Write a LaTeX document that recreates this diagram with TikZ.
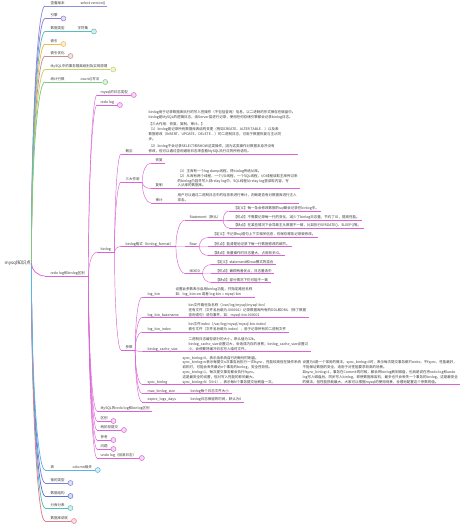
\documentclass[tikz,border=0pt]{standalone}
\usepackage{fontspec}
\setmainfont{Noto Sans CJK SC}
\usetikzlibrary{positioning, calc}

\definecolor{txt}{HTML}{3A3A3A}
\definecolor{cA}{HTML}{8C90DC}
\definecolor{cB}{HTML}{8F80D4}
\definecolor{cC}{HTML}{5CBCBC}
\definecolor{cD}{HTML}{EDBC4C}
\definecolor{cE}{HTML}{C88F8F}
\definecolor{cF}{HTML}{C8D165}
\definecolor{cG}{HTML}{7FCA7F}
\definecolor{cM}{HTML}{DD62D6}
\definecolor{cH}{HTML}{5AB4E4}
\definecolor{cI}{HTML}{7D7FD9}
\definecolor{cJ}{HTML}{5873DA}
\definecolor{cK}{HTML}{4EC1B6}
\definecolor{cL}{HTML}{E67B8E}

\begin{document}
\begin{tikzpicture}[x=1pt, y=-1pt,
  every node/.style={font=\fontsize{3.5}{4.9}\selectfont, text=txt, inner sep=0.4pt},
  lb/.style={anchor=south west, text depth=0.9pt},
  bk/.style={anchor=south west, align=left, execute at end node={\rule[-0.9pt]{0pt}{0.9pt}}},
  ln/.style={draw=#1, line width=0.45pt},
  tr/.style={draw=#1, line width=0.75pt},
  knob/.style={circle, draw=#1, fill=#1!25, line width=0.5pt, minimum size=5pt, inner sep=0pt},
  br/.style={to path={let \p1=(\tikztostart), \p2=(\tikztotarget) in
    .. controls (\x1,{0.45*(\y1)+0.55*(\y2)}) and ({0.55*(\x1)+0.45*(\x2)},\y2) .. (\tikztotarget)}}]
  \fill[white] (0,0) rectangle (474,526);
  \useasboundingbox (0,0) rectangle (474,526);

  % root
  \node[anchor=west, font=\fontsize{4.5}{5}\selectfont] (rt) at (4,263) {mysql知识点};

  % simple branches of the root
  \coordinate (ver) at (45,6);
  \node[lb] (ver-l) at (50,6) {查看版本};
  \node[lb] (ver-n) at (80,6) {select version()};
  \draw[ln=cA] (ver) -- ([xshift=1pt]ver-n.south east);
  \draw[tr=cA] (rt.east) to[br] (ver);
  \foreach \nm/\py/\t/\c in {eng/18.5/引擎/cB, idx/44/索引/cD, idxo/56/索引优化/cE,
      trx/69.5/MySQL中的事务隔离级别及实现原理/cF, lock/483/锁的类型/cI,
      dstr/496/数据结构/cJ, fk/508/分库分表/cK, tune/521/数据库调优/cL}{
    \coordinate (\nm) at (45,\py);
    \node[lb] (\nm-l) at (50,\py) {\t};
    \node[knob=\c, right=2.5pt of \nm-l.south east] (\nm-k) {};
    \draw[ln=\c] (\nm) -- (\nm-k);
    \draw[tr=\c] (rt.east) to[br] (\nm);
  }
  \foreach \nm/\py/\t/\nx/\s/\c in {dty/31.5/数据类型/77/字符集/cC,
      cnt/82/统计行数/80/count()写法/cG, tab/470/表/72/column相关/cH}{
    \coordinate (\nm) at (45,\py);
    \node[lb] (\nm-l) at (50,\py) {\t};
    \node[lb] (\nm-n) at (\nx,\py) {\s};
    \node[knob=\c, right=2.5pt of \nm-n.south east] (\nm-k) {};
    \draw[ln=\c] (\nm) -- (\nm-k);
    \draw[tr=\c] (rt.east) to[br] (\nm);
  }

  % redo log / binlog branch
  \coordinate (rb) at (45,276);
  \node[lb] (rb-l) at (50,276) {redo log和binlog区别};
  \coordinate[right=3pt of rb-l.south east] (rb-e);
  \draw[ln=cM] (rb) -- (rb-e);
  \draw[tr=cM] (rt.east) to[br] (rb);
  \foreach \nm/\py/\t in {logt/95/mysql的日志类型, redo/105/redo log, diff/421/区别,
      tpc/430/两阶段提交, refr/440/参考, ques/449/问题, undo/458/undo log（回滚日志）}{
    \coordinate (\nm) at (97,\py);
    \node[lb] (\nm-l) at (100,\py) {\t};
    \node[knob=cM, right=2.5pt of \nm-l.south east] (\nm-k) {};
    \draw[ln=cM] (\nm) -- (\nm-k);
    \draw[ln=cM] (rb-e) to[br] (\nm);
  }
  \coordinate (rbd) at (97,411);
  \node[lb] (rbd-l) at (100,411) {MySQL的redo log和binlog区别};
  \draw[ln=cM] (rbd) -- ([xshift=2pt]rbd-l.south east);
  \draw[ln=cM] (rb-e) to[br] (rbd);

  % binlog
  \coordinate (bl) at (97,252);
  \node[lb] (bl-l) at (100,252) {binlog};
  \coordinate[right=3pt of bl-l.south east] (bl-e);
  \draw[ln=cM] (bl) -- (bl-e);
  \draw[ln=cM] (rb-e) to[br] (bl);

  % concept
  \coordinate (gn) at (121,154);
  \node[lb] (gn-l) at (125,154) {概念};
  \node[bk] (gn-b) at (148,154) {binlog用于记录数据库执行的写入性操作（不包括查询）信息，以二进制的形式保存在磁盘中。\\
    binlog是MySQL的逻辑日志，由Server层进行记录，使用任何存储引擎都会记录binlog日志。\\[2.4pt]
    【三大作用：恢复、复制、审计。】\\
    （1）binlog是记录所有数据库表结构变更（例如CREATE、ALTER TABLE…）以及表\\
    数据修改（INSERT、UPDATE、DELETE…）的二进制日志，可用于数据恢复与主从同\\
    步。\\[2.4pt]
    （2）binlog不会记录SELECT和SHOW这类操作，因为这类操作对数据本身并没有\\
    修改，但可以通过查询通用日志来查看MySQL执行过的所有语句。};
  \draw[ln=cM] (gn) -- ([xshift=2pt]gn-b.south east);
  \draw[ln=cM] (bl-e) to[br] (gn);

  % three uses
  \coordinate (zy) at (121,182);
  \node[lb] (zy-l) at (125,182) {三大作用};
  \coordinate[right=2pt of zy-l.south east] (zy-e);
  \draw[ln=cM] (zy) -- (zy-e);
  \draw[ln=cM] (bl-e) to[br] (zy);
  \coordinate (hf) at (151,163);
  \node[lb] (hf-l) at (155,163) {恢复};
  \draw[ln=cM] (hf) -- ([xshift=2pt]hf-l.south east);
  \draw[ln=cM] (zy-e) to[br] (hf);
  \coordinate (fz) at (151,188.5);
  \node[lb] (fz-l) at (155,188.5) {复制};
  \node[bk] (fz-b) at (177,188.5) {（1）主库有一个log dump线程，将binlog传给从库。\\
    （2）从库有两个线程，一个I/O线程，一个SQL线程，I/O线程读取主库传过来\\
    的binlog内容并写入到relay log中，SQL线程从relay log里读取内容，写\\
    入从库的数据库。};
  \draw[ln=cM] (fz) -- ([xshift=2pt]fz-b.south east);
  \draw[ln=cM] (zy-e) to[br] (fz);
  \coordinate (sj) at (151,203);
  \node[lb] (sj-l) at (155,203) {审计};
  \node[bk] (sj-b) at (177,203) {用户可以通过二进制日志中的信息来进行审计，判断是否有对数据库进行注入\\
    攻击。};
  \draw[ln=cM] (sj) -- ([xshift=2pt]sj-b.south east);
  \draw[ln=cM] (zy-e) to[br] (sj);

  % binlog format
  \coordinate (fmt) at (121,246.5);
  \node[lb] (fmt-l) at (125,246.5) {binlog格式（binlog\_format）};
  \coordinate[right=2pt of fmt-l.south east] (fmt-e);
  \draw[ln=cM] (fmt) -- (fmt-e);
  \draw[ln=cM] (bl-e) to[br] (fmt);
  \coordinate (stm) at (185,220);
  \node[lb] (stm-l) at (189,220) {Statement（默认）};
  \coordinate[right=2pt of stm-l.south east] (stm-e);
  \draw[ln=cM] (stm) -- (stm-e);
  \draw[ln=cM] (fmt-e) to[br] (stm);
  \coordinate (row) at (185,246.5);
  \node[lb] (row-l) at (189,246.5) {Row};
  \coordinate[right=2pt of row-l.south east] (row-e);
  \draw[ln=cM] (row) -- (row-e);
  \draw[ln=cM] (fmt-e) to[br] (row);
  \coordinate (mix) at (185,273.5);
  \node[lb] (mix-l) at (189,273.5) {MIXED};
  \coordinate[right=2pt of mix-l.south east] (mix-e);
  \draw[ln=cM] (mix) -- (mix-e);
  \draw[ln=cM] (fmt-e) to[br] (mix);
  \foreach \nm/\px/\py/\t/\pa in {
      s1/229/211/【定义】每一条会修改数据的sql都会记录在binlog中。/stm-e,
      s2/229/220/【优点】不需要记录每一行的变化，减少了binlog日志量，节约了IO，提高性能。/stm-e,
      s3/229/228/【缺点】在某些情况下会导致主从数据不一致，比如执行SYSDATE()、SLEEP()等。/stm-e,
      r1/208/237.5/【定义】不记录sql语句上下文相关信息，仅保存哪条记录被修改。/row-e,
      r2/208/246.5/【优点】能清楚地记录下每一行数据修改的细节。/row-e,
      r3/208/255.5/【缺点】批量操作时日志量大，占用较多IO。/row-e,
      m1/211/264.5/【定义】statement和row模式的混合/mix-e,
      m2/211/273.5/【优点】兼顾两者优点，日志量适中/mix-e,
      m3/211/282.5/【缺点】部分情况下仍可能不一致/mix-e}{
    \coordinate (\nm) at (\px,\py);
    \node[lb] (\nm-l) at ({\px+4},\py) {\t};
    \draw[ln=cM] (\nm) -- ([xshift=2pt]\nm-l.south east);
    \draw[ln=cM] (\pa) to[br] (\nm);
  }

  % parameters
  \coordinate (cs) at (121,350);
  \node[lb] (cs-l) at (125,350) {参数};
  \coordinate[right=2pt of cs-l.south east] (cs-e);
  \draw[ln=cM] (cs) -- (cs-e);
  \draw[ln=cM] (bl-e) to[br] (cs);
  \coordinate (lbin) at (142,297);
  \node[lb] (lbin-l) at (147,297) {log\_bin};
  \node[bk] (lbin-b) at (175,297) {设置此参数表示启用binlog功能，并指定路径名称\\
    如：log\_bin=on 或者 log-bin = mysql-bin};
  \draw[ln=cM] (lbin) -- ([xshift=2pt]lbin-b.south east);
  \draw[ln=cM] (cs-e) to[br] (lbin);
  \coordinate (lbase) at (142,317.5);
  \node[lb] (lbase-l) at (147,317.5) {log\_bin\_basename};
  \node[bk] (lbase-b) at (188,317.5) {bin文件路径及名称（/var/log/mysql/mysql-bin）\\
    还有文件（文件名后缀为.000001）记录数据库所有的DDL和DML（除了数据\\
    查询语句）语句事件，如：mysql-bin.000001};
  \draw[ln=cM] (lbase) -- ([xshift=2pt]lbase-b.south east);
  \draw[ln=cM] (cs-e) to[br] (lbase);
  \coordinate (lidx) at (142,332);
  \node[lb] (lidx-l) at (147,332) {log\_bin\_index};
  \node[bk] (lidx-b) at (188,332) {bin文件index（/var/log/mysql/mysql-bin.index）\\
    索引文件（文件名后缀为.index），用于记录所有的二进制文件};
  \draw[ln=cM] (lidx) -- ([xshift=2pt]lidx-b.south east);
  \draw[ln=cM] (cs-e) to[br] (lidx);
  \coordinate (lcache) at (142,351.5);
  \node[lb] (lcache-l) at (147,351.5) {binlog\_cache\_size};
  \node[bk] (lcache-b) at (188,351.5) {二进制日志缓存部分的大小，默认值为32k。\\
    binlog\_cache\_size设置过大，会造成内存的浪费；binlog\_cache\_size设置过\\
    小，会频繁将缓冲日志写入临时文件。};
  \draw[ln=cM] (lcache) -- ([xshift=2pt]lcache-b.south east);
  \draw[ln=cM] (cs-e) to[br] (lcache);
  \coordinate (lsync) at (142,384.5);
  \node[lb] (lsync-l) at (147,384.5) {sync\_binlog};
  \node[bk, font=\fontsize{3.5}{4.8}\selectfont] (lsync-b) at (182,384.5) {sync\_binlog=0，表示由系统自行判断何时刷盘。\\
    sync\_binlog=n表示每提交n次事务后执行一次fsync，性能较高但在操作系统\\
    宕机时，可能会丢失最近n个事务的binlog，安全性较低。\\
    sync\_binlog=1，每次提交事务都会执行fsync。\\
    这是最安全的设置，但对写入性能的影响最大。\\
    sync\_binlog=N（N>1），表示每N个事务提交后刷盘一次。};
  \node[bk, font=\fontsize{3.5}{4.8}\selectfont] (lsync-r) at (302,384.5) {设置为0是一个常用的做法，sync\_binlog=0时，表示每次提交事务都只write，不fsync，性能最好，\\
    不能保证数据的安全，适用于对性能要求较高的场景。\\
    如sync\_binlog=1，事务在Commit的时候，都会将binlog刷到磁盘，也就是说在将redo log和undo\\
    log写入磁盘后，同步写入binlog，即使数据库宕机，最多也只会丢失一个事务的binlog，这是最安全\\
    的做法，但性能损耗最大，大家可以根据mysql的使用场景，合理地配置这个参数的值。};
  \draw[ln=cM] (lsync) -- ([xshift=2pt]lsync-r.south east);
  \draw[ln=cM] (cs-e) to[br] (lsync);
  \coordinate (lmax) at (142,393.5);
  \node[lb] (lmax-l) at (147,393.5) {max\_binlog\_size};
  \node[lb] (lmax-n) at (190,393.5) {binlog每个日志文件大小};
  \draw[ln=cM] (lmax) -- ([xshift=2pt]lmax-n.south east);
  \draw[ln=cM] (cs-e) to[br] (lmax);
  \coordinate (lexp) at (142,402);
  \node[lb] (lexp-l) at (147,402) {expire\_logs\_days};
  \node[lb] (lexp-n) at (190,402) {binlog日志保留的时间，默认为0};
  \draw[ln=cM] (lexp) -- ([xshift=2pt]lexp-n.south east);
  \draw[ln=cM] (cs-e) to[br] (lexp);
\end{tikzpicture}
\end{document}
